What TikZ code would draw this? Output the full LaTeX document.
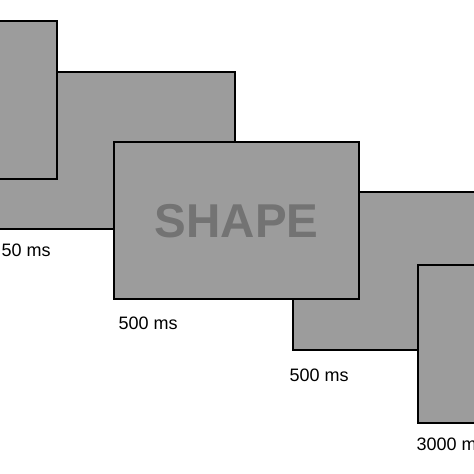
\documentclass[tikz,border=0pt]{standalone}
\usepackage{fontspec}
\setmainfont{Liberation Sans}
\definecolor{screengray}{RGB}{156,156,156}
\definecolor{shapegray}{RGB}{115,115,115}
\begin{document}
\begin{tikzpicture}[x=1pt,y=-1pt,
  screen/.style={draw=black, line width=2.4pt, fill=screengray, inner sep=0pt, anchor=north west},
  timelabel/.style={anchor=base west, inner sep=0pt, font=\fontsize{18}{21}\selectfont},
  shapetext/.style={inner sep=0pt, text=shapegray, font=\fontsize{47.5}{56}\selectfont\bfseries}]
\useasboundingbox (0,0) rectangle (474,474);
\clip (0,0) rectangle (474,474);
% back screens
\node[screen, minimum width=334pt, minimum height=157pt] (b) at (-100,71) {};
\node[screen, minimum width=248pt, minimum height=158pt] (d) at (292,191) {};
% front screens
\node[screen, minimum width=156pt, minimum height=158pt] (a) at (-100,20) {};
\node[screen, minimum width=245pt, minimum height=157pt] (c) at (113,141) {};
\node[screen, minimum width=243pt, minimum height=158pt] (e) at (417,264) {};
\node[shapetext] (shape) at (c.center) {SHAPE};
% durations
\node[timelabel] (l1) at (1.5,256.5) {50 ms};
\node[timelabel] (l2) at (118.5,329) {500 ms};
\node[timelabel] (l3) at (289.5,381) {500 ms};
\node[timelabel] (l4) at (416.5,450) {3000 ms};
\end{tikzpicture}
\end{document}
